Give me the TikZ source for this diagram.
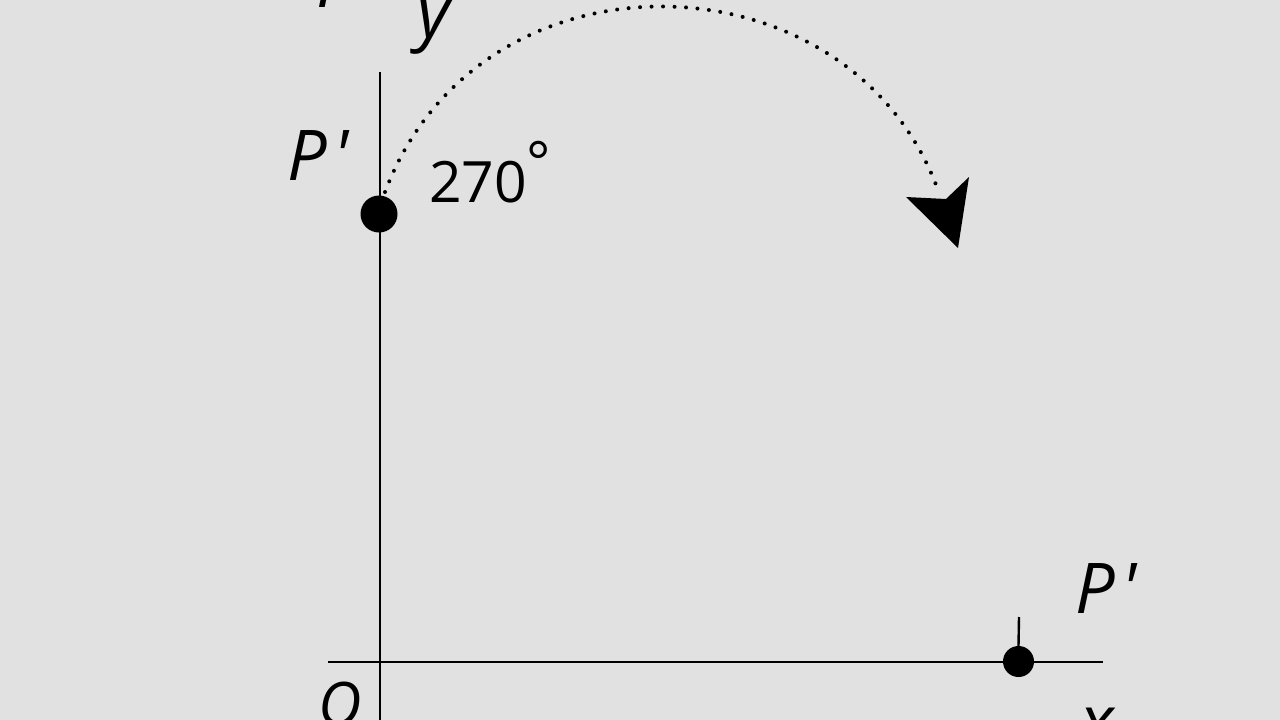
\documentclass[tikz,border=0pt]{standalone}
\usepackage{fontspec}
\newfontfamily\lab{Open Sans}[Ligatures=TeXOff]
\definecolor{bg}{HTML}{E1E1E1}
\newcommand{\pp}{P\hspace{7pt}'}
\begin{document}
\begin{tikzpicture}[x=1pt,y=-1pt,
  axis/.style={line width=2.4pt,black},
  dot/.style={circle,fill=black,inner sep=0pt},
  lbl/.style={font=\lab\itshape\fontsize{70}{70}\selectfont,inner sep=0pt,anchor=base west},
  num/.style={font=\lab\fontsize{57}{57}\selectfont,inner sep=0pt,anchor=base west},
  arc/.style={line width=4pt,line cap=round,dash pattern=on 0pt off 11.5pt}]
\fill[bg] (0,0) rectangle (1280,720);
\useasboundingbox (0,0) rectangle (1280,720);
\clip (0,0) rectangle (1280,720);
% axes
\coordinate (ytop) at (380,72);
\coordinate (ybot) at (380,730);
\coordinate (xl) at (328,662);
\coordinate (xr) at (1103,662);
\draw[axis] (ybot) -- (ytop);
\draw[axis] (xl) -- (xr);
% points
\node[dot,minimum size=37pt] (P1) at (379,214) {};
\node[dot,minimum size=31pt] (P2) at (1018.5,661.5) {};
\coordinate (tk) at (1019,617);
\draw[axis] (tk) -- (P2.north);
% dotted arc
\coordinate (as) at (385,192);
\coordinate (ae) at (938,190);
\draw[arc] (as) .. controls (480,-60) and (850,-50) .. (ae);
\fill (906,197) -- (946,199) -- (969,177) -- (958,248) -- cycle;
% labels
\node[lbl] (Ptop) at (316,8) {\pp};
\node[lbl] (ylab) at (417,37) {y};
\node[lbl] (P1l) at (287,180) {\pp};
\node[num] (ang) at (429,202) {270\raisebox{20pt}{°}};
\node[lbl] (P2l) at (1075,613) {\pp};
\node[lbl,font=\lab\itshape\fontsize{60}{60}\selectfont] (O) at (318,725) {O};
\node[lbl] (xlab) at (1080,745) {x};
\end{tikzpicture}
\end{document}
